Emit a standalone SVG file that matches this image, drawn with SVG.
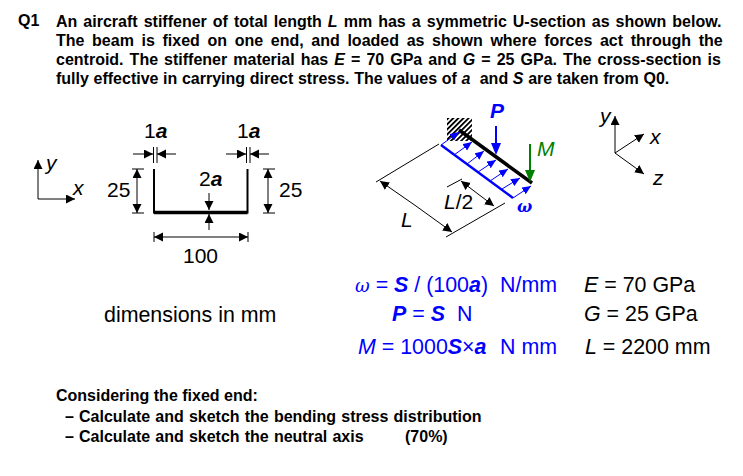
<svg xmlns="http://www.w3.org/2000/svg" width="743" height="476" viewBox="0 0 743 476">
<style>
text{font-family:"Liberation Sans",Arial,sans-serif;fill:#000}
.p{font-size:16px;font-weight:bold;word-spacing:.7px}
.d{font-size:21px}
.e{font-size:21.4px}
.b{fill:#0000ff}
.i{font-style:italic}
.bi{font-style:italic;font-weight:bold}
.o{font-family:"DejaVu Serif",serif;font-style:italic}
.k{stroke:#000;stroke-width:1;fill:none}
.g{stroke:#000;stroke-width:1;fill:none}
.dim{marker-end:url(#ka)}
.bl{stroke:#0000ff;stroke-width:1;marker-end:url(#ba)}
</style>
<defs>
<marker id="ka" markerUnits="userSpaceOnUse" markerWidth="10" markerHeight="10" refX="9" refY="4.500" orient="auto"><path d="M0 0L9 4.500L0 9Z" fill="#000"/></marker>
<marker id="ba" markerUnits="userSpaceOnUse" markerWidth="10" markerHeight="9" refX="9" refY="4" orient="auto"><path d="M0 0L9 4L0 8Z" fill="#0000ff"/></marker>
<pattern id="h" patternUnits="userSpaceOnUse" width="3.600" height="3.600" patternTransform="rotate(-45)"><rect width="3.600" height="1.800" fill="#000"/></pattern>
</defs>
<rect width="743" height="476" fill="#fff"/>
<g id="question">
<text class="p" x="18" y="26" style="word-spacing:0">Q1</text>
<text class="p" x="56" y="27" style="word-spacing:1.6px">An aircraft stiffener of total length <tspan class="i">L</tspan> mm has a symmetric U-section as shown below.</text>
<text class="p" x="56" y="46" style="word-spacing:3.2px">The beam is fixed on one end, and loaded as shown where forces act through the</text>
<text class="p" x="56" y="65" style="word-spacing:1.6px">centroid. The stiffener material has <tspan class="i">E</tspan> = 70 GPa and <tspan class="i">G</tspan> = 25 GPa. The cross-section is</text>
<text class="p" x="56" y="84" xml:space="preserve" style="word-spacing:.2px">fully effective in carrying direct stress. The values of <tspan class="i">a</tspan>  and <tspan class="i">S</tspan> are taken from Q0.</text>
</g>
<g id="section-axes">
<path class="k dim" d="M38 199V160"/><path class="k dim" d="M38 199H75"/>
<text class="d i" x="46" y="170">y</text><text class="d i" x="73" y="195">x</text>
</g>
<g id="u-section">
<path d="M154 169V212.500H247.500V169" fill="none" stroke="#000" stroke-width="2"/>
<path d="M154 212.500H247.500" stroke="#000" stroke-width="3.500"/>
</g>
<g id="section-dimensions">
<path class="g dim" d="M133 154H153"/><path class="g dim" d="M176 154H157"/><path class="g" d="M153.500 147V163M157 147V163"/>
<path class="g dim" d="M226 154H246"/><path class="g dim" d="M269 154H250"/><path class="g" d="M246.500 147V163M250 147V163"/>
<path class="g dim" d="M137 190V169"/><path class="g dim" d="M137 190V213"/><path class="g" d="M132 169H144M132 213H144"/>
<path class="g dim" d="M268 190V169"/><path class="g dim" d="M268 190V213"/><path class="g" d="M263 169H275M263 213H275"/>
<path class="g dim" d="M209 193V210"/><path class="g dim" d="M209 230V214"/>
<path class="g dim" d="M200 237H154"/><path class="g dim" d="M200 237H248"/><path class="g" d="M154 232V242M248 232V242"/>
<text class="d" x="144" y="138">1<tspan class="bi">a</tspan></text>
<text class="d" x="237" y="138">1<tspan class="bi">a</tspan></text>
<text class="d" x="199" y="186">2<tspan class="bi">a</tspan></text>
<text class="d" x="107" y="197">25</text>
<text class="d" x="279" y="197">25</text>
<text class="d" x="183" y="263">100</text>
<text class="e" x="104" y="322">dimensions in mm</text>
</g>
<g id="beam">
<rect x="447" y="118" width="25" height="23" fill="url(#h)"/>
<path d="M459 130L532 183" stroke="#000" stroke-width="3.500"/>
<path d="M441 145L513 198" stroke="#0000ff" stroke-width="2.500"/>
</g>
<g id="connectors">
<path class="bl" d="M441 145L459 132"/><path class="bl" d="M454 155L472 142"/><path class="bl" d="M467 164L484 151"/><path class="bl" d="M478 172L496 160"/><path class="bl" d="M490 181L508 169"/><path class="bl" d="M502 189L520 178"/><path class="bl" d="M513 198L531 186"/>
<path d="M496 126V146" stroke="#0000ff" stroke-width="2"/><path d="M491 143L496 155L501 143Z" fill="#0000ff"/>
<path d="M530 144V175" stroke="#008000" stroke-width="2"/><path d="M525 170L530 182L535 170Z" fill="#008000"/>
<path class="g" d="M376 182L439 144M446 237L505 203M447 187L462 179"/>
<path class="g dim" d="M416 206L380 181"/><path class="g dim" d="M416 206L452 232"/>
<path class="g dim" d="M478 194L461 181"/><path class="g dim" d="M478 194L494 206"/>
</g>
<g id="beam-labels">
<text class="b bi" x="490" y="118" font-size="21">P</text>
<text class="i" x="537" y="156" font-size="21" style="fill:#008000">M</text>
<text class="b o" x="517" y="212" font-size="16" font-weight="bold">ω</text>
<text class="d" x="444" y="209"><tspan class="i">L</tspan>/2</text>
<text class="d i" x="401" y="227">L</text>
</g>
<g id="global-axes">
<path class="k dim" d="M615 153V116"/><path class="k dim" d="M615 153L644 134"/><path class="k dim" d="M615 153L644 174"/>
<text class="d i" x="600" y="123">y</text><text class="d i" x="650" y="144">x</text><text class="d i" x="653" y="185">z</text>
</g>
<g id="equations">
<text class="e b" x="355" y="292"><tspan class="o" font-size="18">ω</tspan> = <tspan class="bi">S</tspan> / (100<tspan class="bi">a</tspan>)</text>
<text class="e b" x="500" y="292">N/mm</text>
<text class="e b" x="392" y="321"><tspan class="bi">P</tspan> = <tspan class="bi">S</tspan></text><text class="e b" x="457" y="321">N</text>
<text class="e b" x="358" y="354"><tspan class="i">M</tspan> = 1000<tspan class="bi">S</tspan>×<tspan class="bi">a</tspan></text><text class="e b" x="500" y="354">N mm</text>
<text class="e" x="584" y="292"><tspan class="i">E</tspan> = 70 GPa</text>
<text class="e" x="584" y="321"><tspan class="i">G</tspan> = 25 GPa</text>
<text class="e" x="585" y="354"><tspan class="i">L</tspan> = 2200 mm</text>
</g>
<g id="tasks">
<text class="p" x="56" y="401" style="word-spacing:0">Considering the fixed end:</text>
<text class="p" x="65" y="422">– Calculate and sketch the bending stress distribution</text>
<text class="p" x="65" y="442">– Calculate and sketch the neutral axis</text>
<text class="p" x="405" y="442">(70%)</text>
</g>
</svg>
